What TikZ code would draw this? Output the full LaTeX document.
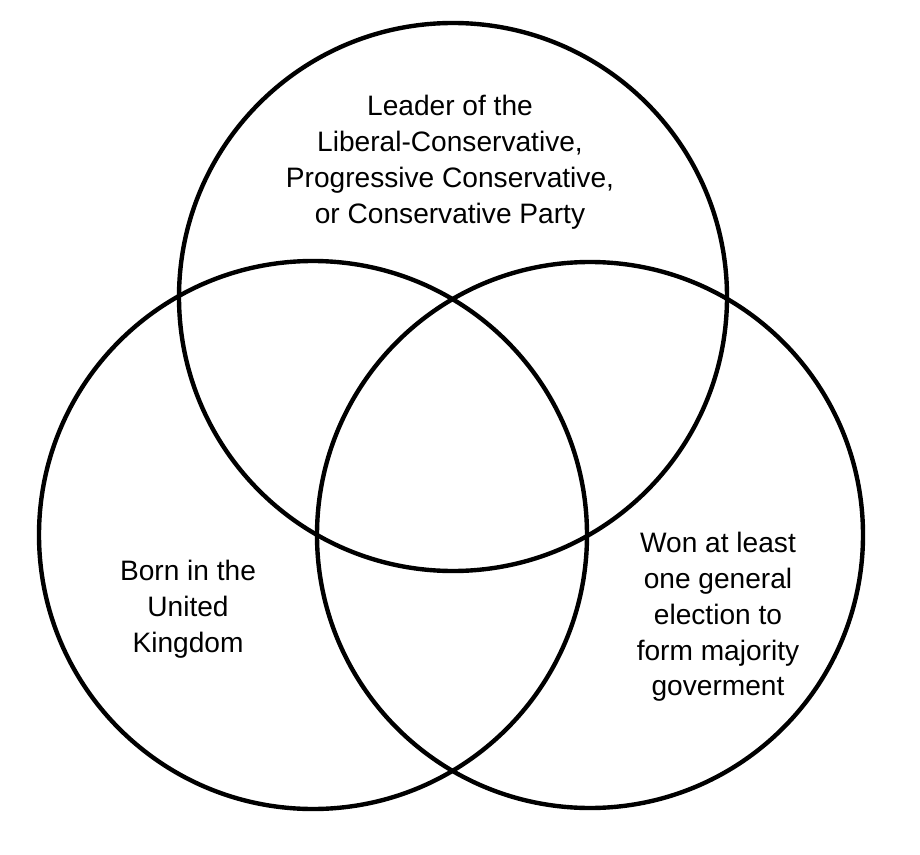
\documentclass[tikz,border=0pt]{standalone}
\usepackage{fontspec}
\setmainfont{Liberation Sans}
\usetikzlibrary{positioning}

\begin{document}
\begin{tikzpicture}[x=0.02cm,y=-0.02cm,
    ring/.style={draw=black, line width=2.5pt},
    label/.style={align=center, font=\fontsize{16}{20.4}\selectfont}]
    \useasboundingbox (0,0) rectangle (920,855);

    \draw[ring] (453,297) circle (274);
    \draw[ring] (313,535) circle (274);
    \draw[ring] (590,535) circle (273);

    \node[label] (leader) at (450,162) {Leader of the\\Liberal-Conservative,\\Progressive Conservative,\\or Conservative Party};
    \node[label] (born) at (188,609) {Born in the\\United\\Kingdom};
    \node[label] (won) at (718,617) {Won at least\\one general\\election to\\form majority\\goverment};
\end{tikzpicture}
\end{document}
